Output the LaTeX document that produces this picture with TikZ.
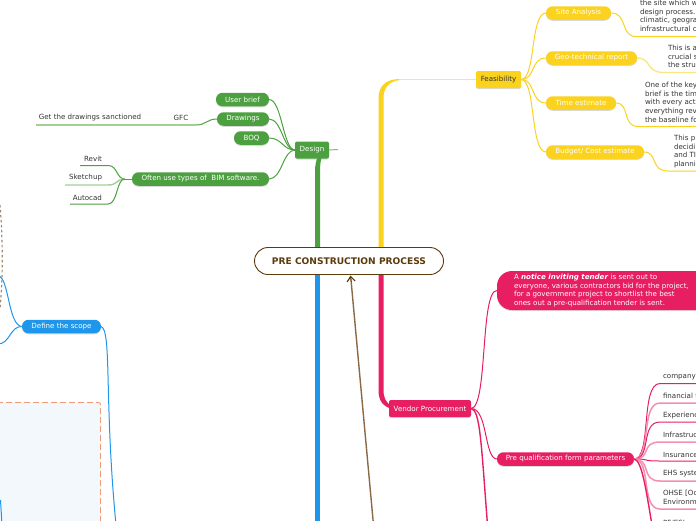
\documentclass[tikz,border=0pt]{standalone}
\usepackage{fontspec}
\setmainfont{DejaVu Sans}
\usepackage{tikz}
\usetikzlibrary{arrows.meta, positioning, shadows}
\definecolor{rootbrown}{RGB}{91, 58, 12}
\definecolor{linkbrown}{RGB}{140, 105, 70}
\definecolor{designgreen}{RGB}{76, 160, 64}
\definecolor{lightgreen}{RGB}{160, 208, 150}
\definecolor{feasyellow}{RGB}{251, 210, 30}
\definecolor{lightyellow}{RGB}{253, 230, 130}
\definecolor{vendorpink}{RGB}{232, 30, 99}
\definecolor{lightpink}{RGB}{244, 143, 177}
\definecolor{scopeblue}{RGB}{30, 150, 235}
\definecolor{boxfill}{RGB}{243, 248, 252}
\definecolor{boxdash}{RGB}{238, 155, 120}

\begin{document}
\begin{tikzpicture}[x=1pt, y=-1pt,
  every node/.style={inner sep=0pt, outer sep=0pt, font=\fontsize{7.1}{8.7}\selectfont},
  softshadow/.style={drop shadow={shadow xshift=0pt, shadow yshift=-1pt, opacity=0.3}},
  pill/.style={rounded corners=6.5pt, text=white, minimum height=13.5pt, softshadow},
  topic/.style={rounded corners=2pt, text=white, minimum height=17pt, softshadow},
  note/.style={anchor=north west, align=left, text=black!80},
  item/.style={anchor=west, align=left, text=black!80},
  trunk/.style={line width=5pt},
  twig/.style={line width=1pt},
  under/.style={line width=1.4pt}
]
  \useasboundingbox (0,0) rectangle (696,520);
  \clip (0,0) rectangle (696,520);

  % Dashed box on the left
  \coordinate (boxtl) at (-3,402.5);
  \coordinate (boxbr) at (100.5,525);
  \draw[boxdash, fill=boxfill, dash pattern=on 6pt off 3pt, line width=0.9pt, rounded corners=2pt] (boxtl) rectangle (boxbr);

  % Topic nodes
  \coordinate (bluebot) at (317.5,525);
  \coordinate (linkbot) at (373.5,525);
  \coordinate (designend) at (338,149.5);
  \fill[designgreen] (315,250) -- (315,172) .. controls (315,165) and (316,161) .. (318,156) -- (322,156) .. controls (320.5,161) and (320,165) .. (320,172) -- (320,250) -- cycle;
  \fill[feasyellow] (378.5,250) -- (378.5,98) .. controls (378.5,86) and (386,79) .. (400,79) -- (400,80) .. controls (389,81) and (383.5,88) .. (383.5,98) -- (383.5,250) -- cycle;
  \fill[vendorpink] (378.5,272) -- (378.5,390) .. controls (378.5,400) and (382,406) .. (392,409) -- (392,406) .. controls (386,403) and (383.5,398) .. (383.5,390) -- (383.5,272) -- cycle;
  \draw[trunk, scopeblue] (317.5,272) -- (bluebot);
  \node[topic, fill=designgreen, minimum width=34pt] (design) at (312,150) {Design};
  \node[topic, fill=feasyellow, text=black!80, minimum width=45pt] (feas) at (498.5,79.5) {Feasibility};
  \node[topic, fill=vendorpink, minimum width=82pt] (vendor) at (430,408.5) {Vendor Procurement};
  \draw[twig, lightyellow] (399,79.5) -- (feas.west);
  \draw[twig, designgreen!70] (design.east) -- (designend);

  % Root and the link into it
  \node[draw=rootbrown, line width=0.9pt, fill=white, rounded corners=13.5pt, minimum width=189pt, minimum height=27pt, font=\fontsize{9.1}{10}\selectfont\bfseries, text=rootbrown] (root) at (349,261) {PRE CONSTRUCTION PROCESS};
  \coordinate (linktip) at (350.5,275.5);
  \draw[line width=1.4pt, linkbrown] (linkbot) -- (351.2,282);
  \draw[line width=1.2pt, rootbrown, -{Straight Barb[length=5pt, width=8pt]}] (351.2,282) -- (linktip);

  % Design
  \node[pill, fill=designgreen, minimum width=53pt] (brief) at (242.5,99.5) {User brief};
  \node[pill, fill=designgreen, minimum width=52pt] (drawings) at (243,119) {Drawings};
  \node[pill, fill=designgreen, minimum width=35pt] (boq) at (251.5,138) {BOQ};
  \node[pill, fill=designgreen, minimum width=137pt] (bim) at (200.5,179) {Often use types of\ \ BIM software.};
  \foreach \n/\y in {brief/99.5, drawings/119, boq/138, bim/179}
    \draw[twig, designgreen] (design.west) .. controls (283,150) and (282,\y) .. (\n.east);

  \node[text=black!80] (gfc) at (181,118) {GFC};
  \node[text=black!80] (sanction) at (90,118) {Get the drawings sanctioned};
  \coordinate (gfcend) at (196,125);
  \coordinate (sanctionend) at (36,125);
  \draw[twig, designgreen] (drawings.west) .. controls (207,119) and (206,125) .. (gfcend);
  \draw[under, lightgreen] (gfcend) -- (sanctionend);

  \node[text=black!80, anchor=east] (revit) at (102,159) {Revit};
  \node[text=black!80, anchor=east] (sketch) at (102,178) {Sketchup};
  \node[text=black!80, anchor=east] (autocad) at (102,197.5) {Autocad};
  \coordinate (bimwest) at (125,179);
  \draw[twig, designgreen] (bim.west) -- (bimwest);
  \foreach \y/\x/\c/\w in {165.5/80/designgreen/1, 185/65/lightgreen/1.4, 204/70/designgreen/1}
    \draw[line width=\w pt, \c] (bimwest) .. controls (116,179) and (118,\y) .. (108,\y) -- (\x,\y);

  % Feasibility
  \node[pill, fill=feasyellow, minimum width=65pt] (site) at (578.5,13) {Site Analysis};
  \node[pill, fill=feasyellow, minimum width=91pt] (geo) at (591.5,58) {Geo-technical report};
  \node[pill, fill=feasyellow, minimum width=70pt] (time) at (581,103) {Time estimate};
  \node[pill, fill=feasyellow, minimum width=98pt] (budget) at (595,152) {Budget/ Cost estimate};
  \foreach \n/\y in {site/13, geo/58, time/103, budget/152}
    \draw[twig, feasyellow] (feas.east) .. controls (536,79.5) and (530,\y) .. (\n.west);

  \node[note] (sitetxt) at (640,0) {the site which w\\design process.\\climatic, geogra\\infrastructural c};
  \node[note] (geotxt) at (668,45) {This is a\\crucial s\\the stru};
  \node[note] (timetxt) at (645,82) {One of the key\\brief is the tim\\with every acti\\everything rev\\the baseline fo};
  \node[note] (budgettxt) at (674,135) {This p\\decidi\\and TI\\planni};
  \draw[twig, feasyellow] (site.east) .. controls (628,13) and (620,36.5) .. (636,36.5) -- (700,36.5);
  \draw[under, lightyellow] (geo.east) .. controls (652,58) and (645,72.5) .. (664,72.5) -- (700,72.5);
  \draw[twig, feasyellow] (time.east) .. controls (630,103) and (622,126.5) .. (638,126.5) -- (700,126.5);
  \draw[twig, feasyellow] (budget.east) .. controls (658,152) and (650,171) .. (668,171) -- (700,171);

  % Vendor procurement
  \node[fill=vendorpink, rounded corners=15pt, minimum width=215pt, minimum height=39pt, softshadow] (tender) at (604.5,290.5) {};
  \node[note, text=white] (tendertxt) at (514,274) {A \textbf{\textit{notice inviting tender}} is sent out to\\everyone, various contractors bid for the project,\\for a government project to shortlist the best\\ones out a pre-qualification tender is sent.};
  \node[pill, fill=vendorpink, minimum width=137pt] (prequal) at (565.5,459) {Pre qualification form parameters};
  \coordinate (vendorbot) at (487.5,525);
  \draw[twig, vendorpink] (vendor.east) .. controls (488,408) and (480,290) .. (tender.west);
  \draw[twig, vendorpink] (vendor.east) .. controls (488,408) and (484,459) .. (prequal.west);
  \draw[under, vendorpink] (vendor.east) .. controls (480,410) and (481,440) .. (vendorbot);

  \node[item] (company) at (663,377) {company};
  \node[item] (financial) at (663,396) {financial t};
  \node[item] (exper) at (663,415.5) {Experienc};
  \node[item] (infra) at (663,435) {Infrastruc};
  \node[item] (insur) at (663,455) {Insurance};
  \node[item] (ehs) at (663,474) {EHS syste};
  \node[item] (ohse) at (663,497.5) {OHSE [Oc\\Environm};
  \node[item] (pfesi) at (663,523.5) {PF/ESI};
  \foreach \n/\y/\c/\w in {company/383.5/vendorpink/1, financial/403/lightpink/1.5, exper/422/vendorpink/1, infra/442/lightpink/1.5, insur/461/vendorpink/1, ehs/481/lightpink/1.5, ohse/509/lightpink/1.5}
    \draw[line width=\w pt, \c] (prequal.east) .. controls (652,459) and (640,\y) .. (660,\y) -- (700,\y);
  \coordinate (prequalbot) at (652,525);
  \draw[under, vendorpink] (prequal.east) .. controls (642,460) and (646,490) .. (prequalbot);

  % Define the scope
  \node[pill, fill=scopeblue, minimum width=79pt] (scope) at (61.5,326.5) {Define the scope};
  \coordinate (scopeup) at (-2,276);
  \coordinate (scopedown) at (-2,344);
  \coordinate (scopebot) at (116,525);
  \coordinate (boxblue) at (2,525);
  \draw[twig, scopeblue] (scope.east) .. controls (112,330) and (104,400) .. (scopebot);
  \draw[twig, scopeblue] (scope.west) .. controls (8,326) and (9,276) .. (scopeup);
  \draw[twig, scopeblue] (scope.west) .. controls (10,326) and (10,344) .. (scopedown);
  \draw[twig, scopeblue] (0.5,500) -- (boxblue);
  \draw[linkbrown!80, line width=1.2pt, dash pattern=on 2.5pt off 2.5pt] (0,205) .. controls (3,240) and (3,280) .. (0,308);
\end{tikzpicture}
\end{document}
